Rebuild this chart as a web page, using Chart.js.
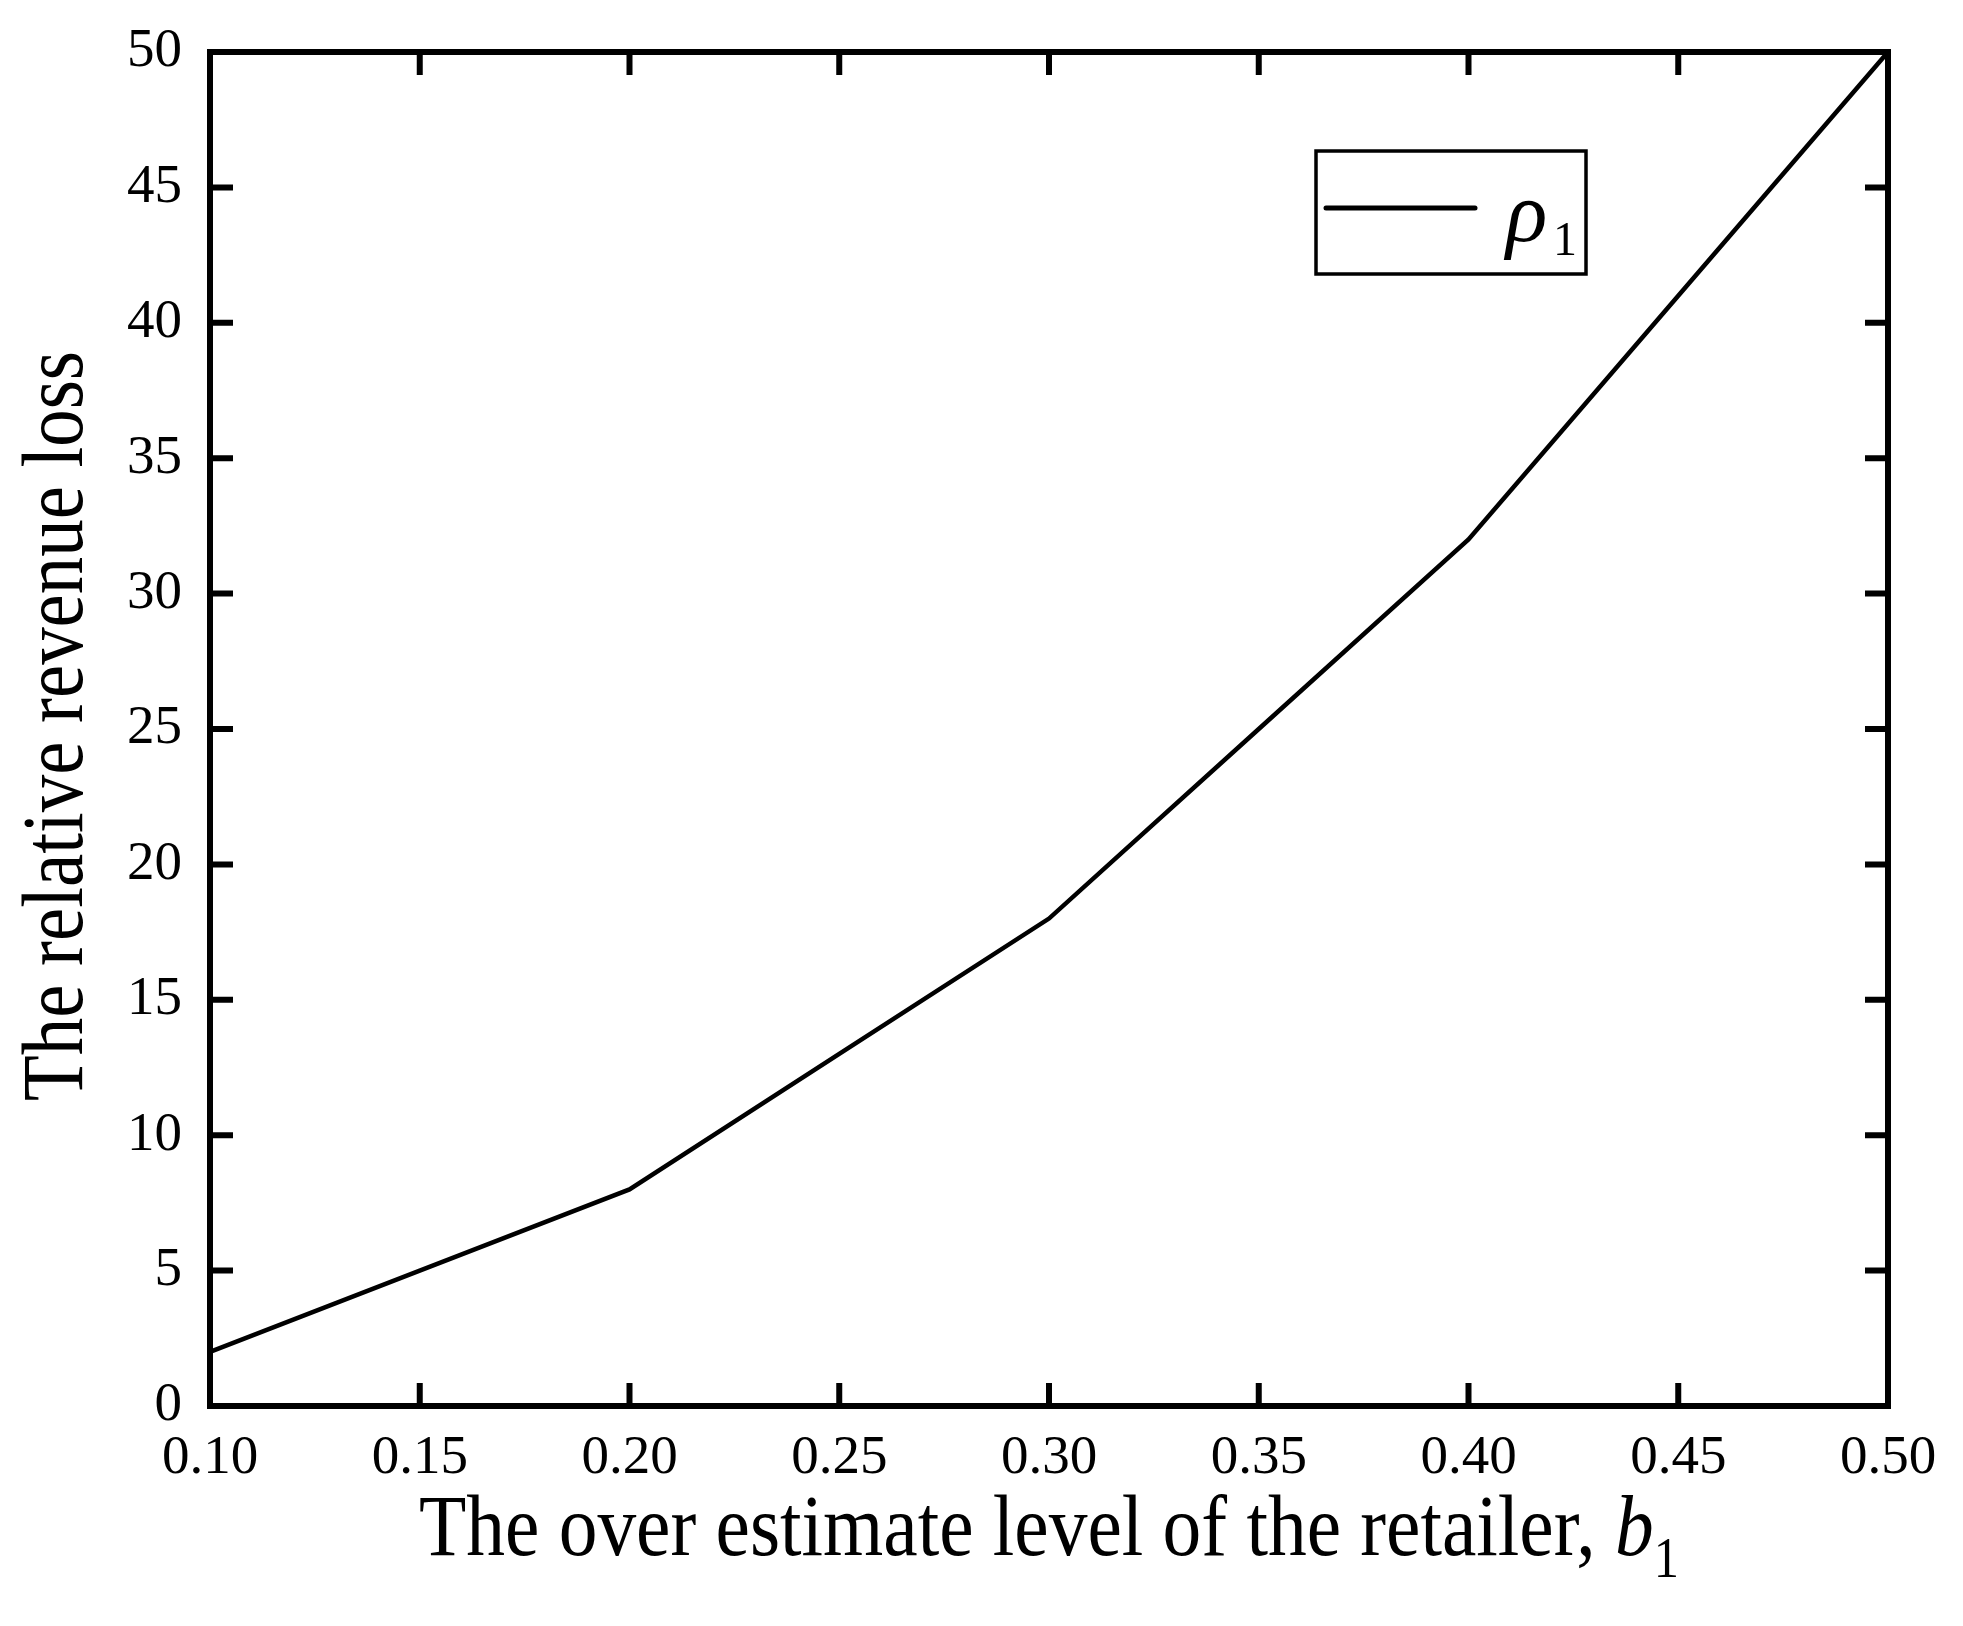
<!DOCTYPE html>
<html>
<head>
<meta charset="utf-8">
<script src="https://cdn.jsdelivr.net/npm/chart.js@4.4.1/dist/chart.umd.min.js"></script>
<style>
  html, body { margin: 0; padding: 0; background: #fff; }
  #wrap { width: 1963px; height: 1626px; }
</style>
</head>
<body>
<div id="wrap"><canvas id="chart" width="1963" height="1626"></canvas></div>
<script>
// values
var overEstimate = [0.10, 0.15, 0.20, 0.25, 0.30, 0.35, 0.40, 0.45, 0.50];
var revenueLoss  = [2, 5, 8, 13, 18, 25, 32, 41, 50];
var xTickValues  = [0.10, 0.15, 0.20, 0.25, 0.30, 0.35, 0.40, 0.45, 0.50];
var yTickValues  = [0, 5, 10, 15, 20, 25, 30, 35, 40, 45, 50];

var serif = '"Liberation Serif", "Times New Roman", serif';
var tickLen = 23;

// draws a run of text pieces (plain / italic / subscript) centred on x
function drawPieces(ctx, pieces, x, y, squeeze) {
    var total = 0;
    pieces.forEach(function(p) { ctx.font = p.font; total += ctx.measureText(p.text).width; });
    ctx.save();
    ctx.translate(x, y);
    ctx.scale(squeeze, 1);
    var cx = -total / 2;
    ctx.textBaseline = 'alphabetic';
    ctx.textAlign = 'left';
    pieces.forEach(function(p) {
        ctx.font = p.font;
        ctx.fillText(p.text, cx, p.dy || 0);
        cx += ctx.measureText(p.text).width;
    });
    ctx.restore();
}

var frameTicks = {
    id: 'frameTicks',
    afterDatasetsDraw: function(chart) {
        var ctx = chart.ctx, a = chart.chartArea;
        var x = chart.scales.x, y = chart.scales.y;
        ctx.save();
        ctx.strokeStyle = '#000';
        ctx.lineWidth = 6;
        ctx.beginPath();
        x.ticks.forEach(function(t) {
            var px = x.getPixelForValue(t.value);
            ctx.moveTo(px, a.bottom); ctx.lineTo(px, a.bottom - tickLen);
            ctx.moveTo(px, a.top);    ctx.lineTo(px, a.top + tickLen);
        });
        y.ticks.forEach(function(t) {
            var py = y.getPixelForValue(t.value);
            ctx.moveTo(a.left, py);  ctx.lineTo(a.left + tickLen, py);
            ctx.moveTo(a.right, py); ctx.lineTo(a.right - tickLen, py);
        });
        ctx.stroke();
        ctx.strokeRect(a.left, a.top, a.right - a.left, a.bottom - a.top);
        ctx.restore();
    }
};

var titlesAndLegend = {
    id: 'titlesAndLegend',
    afterDraw: function(chart) {
        var ctx = chart.ctx, a = chart.chartArea;
        ctx.save();
        ctx.fillStyle = '#000';

        // x axis title
        drawPieces(ctx, [
            { text: 'The over estimate level of the retailer, ', font: '86px ' + serif },
            { text: 'b', font: 'italic 86px ' + serif },
            { text: '1', font: '56px ' + serif, dy: 22 }
        ], (a.left + a.right) / 2, 1555, 0.9);

        // y axis title
        ctx.save();
        ctx.translate(82, (a.top + a.bottom) / 2 - 3);
        ctx.rotate(-Math.PI / 2);
        drawPieces(ctx, [
            { text: 'The relative revenue loss', font: '86px ' + serif }
        ], 0, 0, 0.87);
        ctx.restore();

        // legend box
        var bx = a.right - 572, by = a.top + 99, bw = 270, bh = 123;
        ctx.strokeStyle = '#000';
        ctx.lineWidth = 3.5;
        ctx.strokeRect(bx, by, bw, bh);
        ctx.lineWidth = 5;
        ctx.lineCap = 'round';
        ctx.beginPath();
        ctx.moveTo(bx + 10, by + 57);
        ctx.lineTo(bx + 159, by + 57);
        ctx.stroke();
        ctx.textAlign = 'left';
        ctx.textBaseline = 'alphabetic';
        ctx.font = 'italic 86px ' + serif;
        ctx.fillText('\u03C1', bx + 190, by + 90);
        ctx.font = '48px ' + serif;
        ctx.fillText('1', bx + 237, by + 104);
        ctx.restore();
    }
};

var ctx = document.getElementById('chart');
var myChart = new Chart(ctx, {
    type: 'line',
    data: {
        datasets: [{
            label: '\u03C11',
            data: overEstimate.map(function(v, i) { return { x: v, y: revenueLoss[i] }; }),
            borderColor: '#000',
            borderWidth: 4.5,
            pointRadius: 0,
            tension: 0,
            fill: false,
            clip: false
        }]
    },
    options: {
        responsive: false,
        animation: false,
        devicePixelRatio: 1,
        layout: { padding: { top: 52, right: 75, left: 0, bottom: 0 } },
        plugins: {
            legend: { display: false },
            tooltip: { enabled: false }
        },
        scales: {
            x: {
                type: 'linear',
                min: 0.1,
                max: 0.5,
                afterBuildTicks: function(scale) {
                    scale.ticks = xTickValues.map(function(v) { return { value: v }; });
                },
                afterFit: function(scale) {
                    scale.height = 220;
                    scale.paddingLeft = 0;
                    scale.paddingRight = 0;
                },
                grid: { display: false, drawTicks: false },
                border: { display: false },
                ticks: {
                    color: '#000',
                    padding: 20,
                    maxRotation: 0,
                    autoSkip: false,
                    font: { family: serif, size: 55 },
                    callback: function(v) { return Number(v).toFixed(2); }
                }
            },
            y: {
                type: 'linear',
                min: 0,
                max: 50,
                afterBuildTicks: function(scale) {
                    scale.ticks = yTickValues.map(function(v) { return { value: v }; });
                },
                afterFit: function(scale) {
                    scale.width = 210;
                    scale.paddingTop = 0;
                    scale.paddingBottom = 0;
                },
                grid: { display: false, drawTicks: false },
                border: { display: false },
                ticks: {
                    color: '#000',
                    padding: 28,
                    autoSkip: false,
                    font: { family: serif, size: 55 }
                }
            }
        }
    },
    plugins: [frameTicks, titlesAndLegend]
});
</script>
</body>
</html>
